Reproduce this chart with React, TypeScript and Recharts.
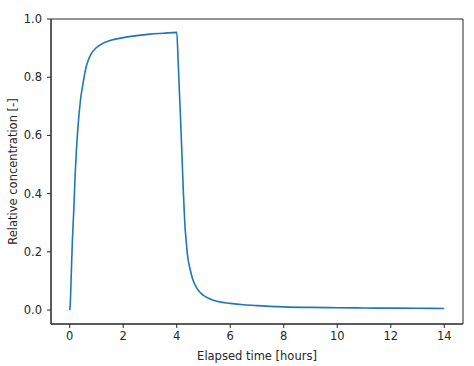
import { Label, Line, LineChart, ReferenceArea, XAxis, YAxis } from "recharts";

// elapsed time [hours] and relative concentration [-]
const hours = [
  0, 0.02, 0.05, 0.1, 0.15, 0.2, 0.25, 0.3, 0.4, 0.5, 0.6, 0.7, 0.8, 1.0, 1.25, 1.5,
  2.0, 2.5, 3.0, 3.5, 4.0, 4.05, 4.1, 4.15, 4.2, 4.25, 4.3, 4.35, 4.4, 4.5, 4.6, 4.75,
  4.9, 5.0, 5.25, 5.5, 6.0, 6.5, 7.0, 8.0, 9.0, 10.0, 11.0, 12.0, 13.0, 14.0,
];
const concentration = [
  0, 0.02, 0.1, 0.24, 0.34, 0.46, 0.55, 0.62, 0.72, 0.78, 0.83, 0.86, 0.88, 0.902, 0.917, 0.926,
  0.936, 0.943, 0.948, 0.951, 0.954, 0.86, 0.75, 0.64, 0.52, 0.4, 0.3, 0.24, 0.19, 0.14, 0.105, 0.075,
  0.058, 0.05, 0.038, 0.03, 0.023, 0.018, 0.015, 0.011, 0.009, 0.008, 0.007, 0.0065, 0.006, 0.0055,
];
const xTicks = [0, 2, 4, 6, 8, 10, 12, 14];
const yTicks = [0, 0.2, 0.4, 0.6, 0.8, 1.0];
const xDomain: [number, number] = [-0.7, 14.7];
const yDomain: [number, number] = [-0.048, 1.0];

const data = hours.map((t, i) => ({ t, c: concentration[i] }));

const ink = "#262626";
const font = "DejaVu Sans";
const tickStyle = { fontSize: 11.5, fill: ink, fontFamily: font };

export default function App() {
  return (
    <div style={{ position: "absolute", left: 0, top: 0, background: "#fff" }}>
      <LineChart
        width={474}
        height={366}
        data={data}
        margin={{ top: 19, right: 11, bottom: 0, left: 0 }}
        style={{ fontFamily: font }}
      >
        <XAxis
          dataKey="t"
          type="number"
          domain={xDomain}
          ticks={xTicks}
          allowDataOverflow
          height={42}
          tickSize={4}
          tickMargin={4}
          tick={tickStyle}
          stroke={ink}
          tickLine={{ stroke: ink }}
          axisLine={{ stroke: ink }}
        >
          <Label
            value="Elapsed time [hours]"
            position="insideBottom"
            offset={6}
            style={{ fontSize: 11.5, fill: ink, fontFamily: font }}
          />
        </XAxis>
        <YAxis
          type="number"
          domain={yDomain}
          ticks={yTicks}
          allowDataOverflow
          width={51}
          tickSize={4}
          tickMargin={5}
          tick={tickStyle}
          tickFormatter={(v: number) => v.toFixed(1)}
          stroke={ink}
          tickLine={{ stroke: ink }}
          axisLine={{ stroke: ink }}
        >
          <Label
            value="Relative concentration [-]"
            angle={-90}
            position="insideLeft"
            offset={13}
            style={{ fontSize: 11.5, fill: ink, fontFamily: font, textAnchor: "middle" }}
          />
        </YAxis>
        <ReferenceArea
          x1={xDomain[0]}
          x2={xDomain[1]}
          y1={yDomain[0]}
          y2={yDomain[1]}
          fill="none"
          stroke={ink}
          strokeWidth={1}
        />
        <Line
          type="monotone"
          dataKey="c"
          stroke="#1f77b4"
          strokeWidth={1.6}
          dot={false}
          isAnimationActive={false}
        />
      </LineChart>
    </div>
  );
}
